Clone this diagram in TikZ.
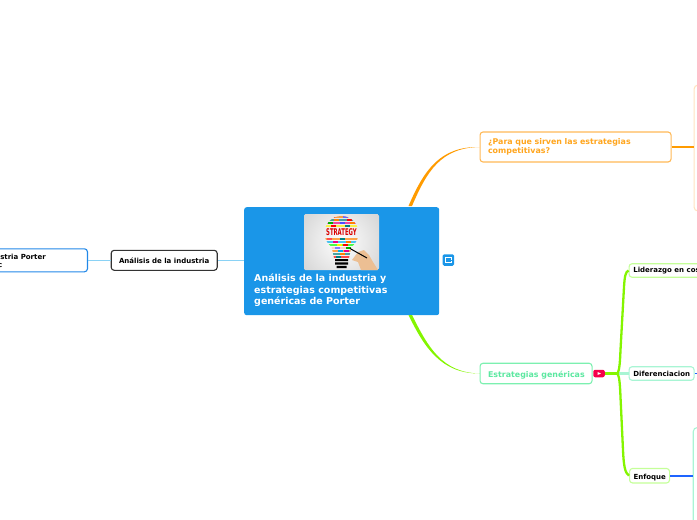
\documentclass[tikz,border=0pt]{standalone}
\usepackage{fontspec}
\setmainfont{DejaVu Sans}
\definecolor{rootblue}{HTML}{1A96E8}
\definecolor{orangeline}{HTML}{FF9B00}
\definecolor{orangetext}{HTML}{FFA61E}
\definecolor{orangebox}{HTML}{FFB957}
\definecolor{orangepale}{HTML}{FFE3C0}
\definecolor{limeline}{HTML}{84F500}
\definecolor{greenbox}{HTML}{7CF0B0}
\definecolor{greentext}{HTML}{5BE8A0}
\definecolor{limepale}{HTML}{C4FF98}
\definecolor{mintbox}{HTML}{A8F5D4}
\definecolor{linkblue}{HTML}{8AD2F5}
\definecolor{leftblue}{HTML}{2288E8}
\definecolor{connblue}{RGB}{30,100,255}
\definecolor{ytred}{HTML}{F5004A}
\tikzset{x=1pt,y=-1pt,
 topic/.style={draw,line width=1.1pt,rounded corners=3pt,fill=white,anchor=west,inner sep=0pt,font=\bfseries\fontsize{7}{9}\selectfont,align=left},
 sub/.style={topic,text=black},
 link/.style={line width=1pt,linkblue},
 lime/.style={line width=2.3pt,limeline},
 bluelink/.style={draw=connblue,color=connblue,line width=1.7pt}}
\begin{document}
\begin{tikzpicture}
\useasboundingbox (0,0) rectangle (697,520);
\clip (0,0) rectangle (697,520);
% root
\node[fill=rootblue,rounded corners=2.5pt,minimum width=195pt,minimum height=108pt,anchor=north west,inner sep=0pt] (root) at (244,207) {};
\node[anchor=north west,inner sep=0pt,text=white,align=left,font=\bfseries\fontsize{9.5}{11.6}\selectfont] (roottext) at (254,273.8) {Análisis de la industria y\\estrategias competitivas\\genéricas de Porter};
% image
\begin{scope}
\path[clip,rounded corners=1.5pt] (304,214) rectangle (379,270);
\fill[black!22] (304,214) rectangle (379,270);
\shade[inner color=white,outer color=black!16] (341,242) circle (46);
\begin{scope}
\clip (341.5,233) circle (17) (330,240) -- (353,240) -- (349,258) -- (334,258) -- cycle;
\foreach \ya/\c in {216/orange,219/teal,222/magenta,225/yellow,238/orange,241/cyan,244/green,247/pink,250/orange,253/teal,256/red}
 {\fill[\c,opacity=.7] (322,\ya) rectangle (361,\ya+2.4);}
\foreach \xa/\ya/\c in {330/216/red,343/216/blue!60,334/219/orange,347/219/red,328/222/green!70!black,340/222/blue!70,350/222/orange,331/225/red,345/225/teal,
 327/238/red!70,340/238/teal,333/241/magenta,346/241/orange,337/244/yellow,343/244/red,335/247/blue!50,346/247/green!70!black,338/250/cyan,344/250/magenta,340/253/orange,336/256/teal}
 {\fill[\c] (\xa,\ya) rectangle +(5,2.4);}
\end{scope}
\node[inner sep=0pt,text=red!85!black,font=\bfseries\fontsize{7.4}{8}\selectfont] (strategy) at (341.5,232) {\scalebox{.72}[1.25]{STRATEGY}};
\fill[black] (335,259) rectangle (348,261.2) (335,262.4) rectangle (348,264.6) (336.5,265.8) rectangle (346.5,268);
\fill[orange!40!brown!50!white] (358,252) -- (364,250) -- (369,255) -- (373,262) -- (378,270) -- (361,270) -- (358,262) -- (352,260) -- cycle;
\draw[black,line width=1pt] (350,248.5) -- (367,258);
\end{scope}
% right top
\node[topic,draw=orangebox,text=orangetext,inner xsep=8pt,text width=175pt,minimum height=30pt,font=\bfseries\fontsize{7.9}{9}\selectfont] (why) at (479.5,147) {¿Para que sirven las estrategias\\competitivas?};
\coordinate (o1) at (408.5,206);
\coordinate (o2) at (412,206);
\fill[orangeline] (o1) .. controls (424,170) and (440,146.4) .. (why.west) .. controls (441,147.8) and (427,171) .. (o2) -- cycle;
\node[draw=orangepale,line width=1.1pt,fill=white,rounded corners=4pt,anchor=north west,minimum width=20pt,minimum height=126pt,inner sep=0pt] (whybox) at (693.5,84.5) {};
\draw[line width=2.2pt,orangeline] (why.east) -- (whybox.west |- why.east);
% right bottom
\node[topic,draw=greenbox,text=greentext,minimum height=20.5pt,font=\bfseries\fontsize{7.9}{9}\selectfont] (est) at (479.5,373.5) {\makebox[112pt][l]{\rule{0pt}{9.2pt}\hspace{8pt}Estrategias genéricas}};
\coordinate (g1) at (408.5,315);
\coordinate (g2) at (412,315);
\fill[limeline] (g1) .. controls (424,347) and (441,373.6) .. (est.west) .. controls (442,372.6) and (428,347) .. (g2) -- cycle;
\node[fill=ytred,rounded corners=2pt,minimum width=11.5pt,minimum height=7.5pt,inner sep=0pt] (yt) at (599,373.5) {};
\fill[white] (597.7,372) -- (600.8,373.5) -- (597.7,375) -- cycle;
\node[sub,draw=limepale,minimum height=13.5pt] (lid) at (628.5,270.5) {\makebox[90pt][l]{\hspace{4.3pt}Liderazgo en costos}};
\node[sub,draw=mintbox,minimum height=13.5pt] (dif) at (628.5,373.5) {\makebox[65pt][l]{\hspace{4.3pt}Diferenciacion}};
\node[sub,draw=limepale,minimum height=14.5pt] (enf) at (629,475.7) {\makebox[40pt][l]{\rule{0pt}{8.4pt}\hspace{4pt}Enfoque}};
\coordinate (fork) at (617.5,373.5);
\draw[line width=2.6pt,limeline] (yt.east) -- (fork);
\draw[line width=2.3pt,mintbox] (fork) -- (dif.west);
\draw[lime] (fork) .. controls (619.5,370) and (620,362) .. (620.5,350) -- (624,287) .. controls (624.7,276) and (625.5,272) .. (lid.west);
\draw[lime] (fork) .. controls (619.5,377) and (620,385) .. (620.5,397) -- (623,450) .. controls (623.7,466) and (625,473) .. (enf.west);
\coordinate (difend) at (697,373.5);
\draw[bluelink] (dif.east) -- (difend);
\node[draw=mintbox,line width=1.1pt,fill=white,rounded corners=4pt,anchor=north west,minimum width=20pt,minimum height=110pt,inner sep=0pt] (enfbox) at (692.7,427) {};
\draw[bluelink] (enf.east) -- (enfbox.west |- enf.east);
% collapse button
\node[fill=rootblue,rounded corners=1.5pt,minimum size=11.5pt,inner sep=0pt] (btn) at (448.3,260) {};
\draw[white,line width=.7pt] (447.5,257.2) -- (445.3,257.2) -- (445.3,262.8) -- (451,262.8) -- (451,260.6);
\draw[white,line width=.7pt] (448.2,256.9) -- (451.3,256.9) -- (451.3,259.8);
% left
\node[sub,draw=black!80,anchor=center,minimum height=20pt] (ana) at (164.2,260.3) {\makebox[106pt][c]{Análisis de la industria}};
\draw[link] (root.west |- ana.east) -- (ana.east);
\node[sub,draw=leftblue,anchor=east,minimum width=120pt,minimum height=23pt] (por) at (88,260.3) {};
\node[inner sep=0pt,anchor=north west,align=left,font=\bfseries\fontsize{7}{8}\selectfont] (portext) at (-17.5,253.8) {Industria Porter\\\hspace{15.5pt}c};
\draw[link] (por.east) -- (ana.west);
\end{tikzpicture}
\end{document}
